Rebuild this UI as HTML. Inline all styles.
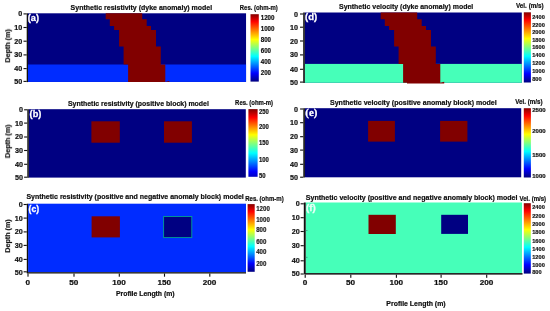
<!DOCTYPE html>
<html lang="en"><head><meta charset="utf-8"><title>Synthetic resistivity and velocity models</title>
<style>
html,body{margin:0;padding:0;background:#fff;}
body{width:550px;height:311px;overflow:hidden;font-family:"Liberation Sans", sans-serif;}
svg{display:block;}
</style></head>
<body>
<svg width="550" height="311" viewBox="0 0 550 311">
<rect x="0" y="0" width="550" height="311" fill="#ffffff"/>
<defs><filter id="soft" x="-5%" y="-30%" width="110%" height="160%"><feGaussianBlur stdDeviation="0.35"/></filter><linearGradient id="jet" x1="0" y1="1" x2="0" y2="0"><stop offset="0" stop-color="#000080"/><stop offset="0.125" stop-color="#0000ff"/><stop offset="0.375" stop-color="#00ffff"/><stop offset="0.5" stop-color="#80ff80"/><stop offset="0.625" stop-color="#ffff00"/><stop offset="0.89" stop-color="#ff0000"/><stop offset="1" stop-color="#860000"/></linearGradient><linearGradient id="jetb" x1="0" y1="1" x2="0" y2="0"><stop offset="0" stop-color="#0000c4"/><stop offset="0.08" stop-color="#0000ff"/><stop offset="0.35" stop-color="#00ffff"/><stop offset="0.49" stop-color="#80ff80"/><stop offset="0.62" stop-color="#ffff00"/><stop offset="0.875" stop-color="#ff0000"/><stop offset="1" stop-color="#800000"/></linearGradient></defs>
<rect x="28.00" y="13.30" width="218.05" height="68.60" fill="#000082"/>
<rect x="28.00" y="64.50" width="218.05" height="17.40" fill="#002cff"/>
<polygon fill="#810000" points="142.20,13.30 142.20,19.30 146.70,19.30 146.70,26.00 151.00,26.00 151.00,30.10 156.00,30.10 156.00,46.60 160.80,46.60 160.80,64.50 165.30,64.50 165.30,81.90 169.30,81.00 169.30,81.90 128.10,81.90 128.10,64.50 123.60,64.50 123.60,46.60 119.10,46.60 119.10,30.10 114.10,30.10 114.10,26.00 109.80,26.00 109.80,19.30 105.70,19.30 105.70,13.30"/>
<rect x="26.70" y="13.30" width="1.30" height="68.80" fill="#111"/>
<rect x="23.50" y="13.35" width="3.20" height="1.10" fill="#111"/>
<text x="22.2" y="16" font-size="7" font-weight="bold" text-anchor="end" fill="#111" font-family='"Liberation Sans", sans-serif' textLength="4.0" lengthAdjust="spacingAndGlyphs" stroke="#111" stroke-width="0.21" filter="url(#soft)">0</text>
<rect x="23.50" y="26.95" width="3.20" height="1.10" fill="#111"/>
<text x="22.2" y="30" font-size="7" font-weight="bold" text-anchor="end" fill="#111" font-family='"Liberation Sans", sans-serif' textLength="8.0" lengthAdjust="spacingAndGlyphs" stroke="#111" stroke-width="0.21" filter="url(#soft)">10</text>
<rect x="23.50" y="40.65" width="3.20" height="1.10" fill="#111"/>
<text x="22.2" y="44" font-size="7" font-weight="bold" text-anchor="end" fill="#111" font-family='"Liberation Sans", sans-serif' textLength="8.0" lengthAdjust="spacingAndGlyphs" stroke="#111" stroke-width="0.21" filter="url(#soft)">20</text>
<rect x="23.50" y="54.35" width="3.20" height="1.10" fill="#111"/>
<text x="22.2" y="57" font-size="7" font-weight="bold" text-anchor="end" fill="#111" font-family='"Liberation Sans", sans-serif' textLength="8.0" lengthAdjust="spacingAndGlyphs" stroke="#111" stroke-width="0.21" filter="url(#soft)">30</text>
<rect x="23.50" y="68.05" width="3.20" height="1.10" fill="#111"/>
<text x="22.2" y="71" font-size="7" font-weight="bold" text-anchor="end" fill="#111" font-family='"Liberation Sans", sans-serif' textLength="8.0" lengthAdjust="spacingAndGlyphs" stroke="#111" stroke-width="0.21" filter="url(#soft)">40</text>
<rect x="23.50" y="80.85" width="3.20" height="1.10" fill="#111"/>
<text x="22.2" y="84" font-size="7" font-weight="bold" text-anchor="end" fill="#111" font-family='"Liberation Sans", sans-serif' textLength="8.0" lengthAdjust="spacingAndGlyphs" stroke="#111" stroke-width="0.21" filter="url(#soft)">50</text>
<text x="70.6" y="9.5" font-size="7.1" font-weight="bold" text-anchor="start" fill="#111" font-family='"Liberation Sans", sans-serif' textLength="141.6" lengthAdjust="spacingAndGlyphs" stroke="#111" stroke-width="0.21" filter="url(#soft)">Synthetic resistivity (dyke anomaly) model</text>
<text x="27.8" y="21.0" font-size="9.5" font-weight="bold" text-anchor="start" fill="#fff" font-family='"Liberation Sans", sans-serif' textLength="11.3" lengthAdjust="spacingAndGlyphs" stroke="#fff" stroke-width="0.28" filter="url(#soft)">(a)</text>
<rect x="250.50" y="14.20" width="8.30" height="67.40" fill="url(#jet)"/>
<text x="239.8" y="9.7" font-size="7" font-weight="bold" text-anchor="start" fill="#111" font-family='"Liberation Sans", sans-serif' textLength="38" lengthAdjust="spacingAndGlyphs" stroke="#111" stroke-width="0.21" filter="url(#soft)">Res. (ohm-m)</text>
<text x="260.7" y="20" font-size="6.6" font-weight="bold" text-anchor="start" fill="#111" font-family='"Liberation Sans", sans-serif' textLength="13.8" lengthAdjust="spacingAndGlyphs" stroke="#111" stroke-width="0.20" filter="url(#soft)">1200</text>
<text x="260.7" y="31" font-size="6.6" font-weight="bold" text-anchor="start" fill="#111" font-family='"Liberation Sans", sans-serif' textLength="13.8" lengthAdjust="spacingAndGlyphs" stroke="#111" stroke-width="0.20" filter="url(#soft)">1000</text>
<text x="260.7" y="42" font-size="6.6" font-weight="bold" text-anchor="start" fill="#111" font-family='"Liberation Sans", sans-serif' textLength="10.350000000000001" lengthAdjust="spacingAndGlyphs" stroke="#111" stroke-width="0.20" filter="url(#soft)">800</text>
<text x="260.7" y="53" font-size="6.6" font-weight="bold" text-anchor="start" fill="#111" font-family='"Liberation Sans", sans-serif' textLength="10.350000000000001" lengthAdjust="spacingAndGlyphs" stroke="#111" stroke-width="0.20" filter="url(#soft)">600</text>
<text x="260.7" y="64" font-size="6.6" font-weight="bold" text-anchor="start" fill="#111" font-family='"Liberation Sans", sans-serif' textLength="10.350000000000001" lengthAdjust="spacingAndGlyphs" stroke="#111" stroke-width="0.20" filter="url(#soft)">400</text>
<text x="260.7" y="75" font-size="6.6" font-weight="bold" text-anchor="start" fill="#111" font-family='"Liberation Sans", sans-serif' textLength="10.350000000000001" lengthAdjust="spacingAndGlyphs" stroke="#111" stroke-width="0.20" filter="url(#soft)">200</text>
<text x="0" y="0" font-size="7" font-weight="bold" text-anchor="middle" fill="#111" font-family='"Liberation Sans", sans-serif' textLength="33.5" lengthAdjust="spacingAndGlyphs" transform="translate(10.1,45.8) rotate(-90)" stroke="#111" stroke-width="0.21" filter="url(#soft)">Depth (m)</text>
<rect x="304.80" y="12.50" width="217.00" height="70.30" fill="#000082"/>
<rect x="304.80" y="63.90" width="217.00" height="18.90" fill="#46ffb9"/>
<polygon fill="#810000" points="417.20,12.50 417.20,19.30 421.70,19.30 421.70,26.00 426.00,26.00 426.00,30.10 431.00,30.10 431.00,46.60 435.80,46.60 435.80,63.90 440.30,63.90 440.30,82.80 444.20,81.80 444.20,83.40 407.00,83.40 407.00,82.80 403.10,82.80 403.10,63.90 398.60,63.90 398.60,46.60 394.10,46.60 394.10,30.10 389.10,30.10 389.10,26.00 384.80,26.00 384.80,19.30 380.70,19.30 380.70,12.50"/>
<rect x="303.20" y="12.50" width="1.60" height="70.50" fill="#111"/>
<rect x="300.00" y="13.45" width="3.20" height="1.10" fill="#111"/>
<text x="298.1" y="17" font-size="7" font-weight="bold" text-anchor="end" fill="#111" font-family='"Liberation Sans", sans-serif' textLength="4.0" lengthAdjust="spacingAndGlyphs" stroke="#111" stroke-width="0.21" filter="url(#soft)">0</text>
<rect x="300.00" y="26.65" width="3.20" height="1.10" fill="#111"/>
<text x="298.1" y="30" font-size="7" font-weight="bold" text-anchor="end" fill="#111" font-family='"Liberation Sans", sans-serif' textLength="8.0" lengthAdjust="spacingAndGlyphs" stroke="#111" stroke-width="0.21" filter="url(#soft)">10</text>
<rect x="300.00" y="40.45" width="3.20" height="1.10" fill="#111"/>
<text x="298.1" y="44" font-size="7" font-weight="bold" text-anchor="end" fill="#111" font-family='"Liberation Sans", sans-serif' textLength="8.0" lengthAdjust="spacingAndGlyphs" stroke="#111" stroke-width="0.21" filter="url(#soft)">20</text>
<rect x="300.00" y="54.35" width="3.20" height="1.10" fill="#111"/>
<text x="298.1" y="57" font-size="7" font-weight="bold" text-anchor="end" fill="#111" font-family='"Liberation Sans", sans-serif' textLength="8.0" lengthAdjust="spacingAndGlyphs" stroke="#111" stroke-width="0.21" filter="url(#soft)">30</text>
<rect x="300.00" y="68.75" width="3.20" height="1.10" fill="#111"/>
<text x="298.1" y="72" font-size="7" font-weight="bold" text-anchor="end" fill="#111" font-family='"Liberation Sans", sans-serif' textLength="8.0" lengthAdjust="spacingAndGlyphs" stroke="#111" stroke-width="0.21" filter="url(#soft)">40</text>
<rect x="300.00" y="81.55" width="3.20" height="1.10" fill="#111"/>
<text x="298.1" y="85" font-size="7" font-weight="bold" text-anchor="end" fill="#111" font-family='"Liberation Sans", sans-serif' textLength="8.0" lengthAdjust="spacingAndGlyphs" stroke="#111" stroke-width="0.21" filter="url(#soft)">50</text>
<text x="339.0" y="8.9" font-size="7.1" font-weight="bold" text-anchor="start" fill="#111" font-family='"Liberation Sans", sans-serif' textLength="134.2" lengthAdjust="spacingAndGlyphs" stroke="#111" stroke-width="0.21" filter="url(#soft)">Synthetic velocity (dyke anomaly) model</text>
<text x="305.0" y="20.4" font-size="9.5" font-weight="bold" text-anchor="start" fill="#fff" font-family='"Liberation Sans", sans-serif' textLength="12.2" lengthAdjust="spacingAndGlyphs" stroke="#fff" stroke-width="0.28" filter="url(#soft)">(d)</text>
<rect x="523.80" y="12.30" width="7.10" height="70.20" fill="url(#jet)"/>
<text x="516" y="8.0" font-size="7" font-weight="bold" text-anchor="start" fill="#111" font-family='"Liberation Sans", sans-serif' textLength="27.7" lengthAdjust="spacingAndGlyphs" stroke="#111" stroke-width="0.21" filter="url(#soft)">Vel. (m/s)</text>
<text x="532.2" y="19" font-size="5.8" font-weight="bold" text-anchor="start" fill="#111" font-family='"Liberation Sans", sans-serif' textLength="12.6" lengthAdjust="spacingAndGlyphs" stroke="#111" stroke-width="0.17" filter="url(#soft)">2400</text>
<text x="532.2" y="27" font-size="5.8" font-weight="bold" text-anchor="start" fill="#111" font-family='"Liberation Sans", sans-serif' textLength="12.6" lengthAdjust="spacingAndGlyphs" stroke="#111" stroke-width="0.17" filter="url(#soft)">2200</text>
<text x="532.2" y="34" font-size="5.8" font-weight="bold" text-anchor="start" fill="#111" font-family='"Liberation Sans", sans-serif' textLength="12.6" lengthAdjust="spacingAndGlyphs" stroke="#111" stroke-width="0.17" filter="url(#soft)">2000</text>
<text x="532.2" y="42" font-size="5.8" font-weight="bold" text-anchor="start" fill="#111" font-family='"Liberation Sans", sans-serif' textLength="12.6" lengthAdjust="spacingAndGlyphs" stroke="#111" stroke-width="0.17" filter="url(#soft)">1800</text>
<text x="532.2" y="49" font-size="5.8" font-weight="bold" text-anchor="start" fill="#111" font-family='"Liberation Sans", sans-serif' textLength="12.6" lengthAdjust="spacingAndGlyphs" stroke="#111" stroke-width="0.17" filter="url(#soft)">1600</text>
<text x="532.2" y="57" font-size="5.8" font-weight="bold" text-anchor="start" fill="#111" font-family='"Liberation Sans", sans-serif' textLength="12.6" lengthAdjust="spacingAndGlyphs" stroke="#111" stroke-width="0.17" filter="url(#soft)">1400</text>
<text x="532.2" y="65" font-size="5.8" font-weight="bold" text-anchor="start" fill="#111" font-family='"Liberation Sans", sans-serif' textLength="12.6" lengthAdjust="spacingAndGlyphs" stroke="#111" stroke-width="0.17" filter="url(#soft)">1200</text>
<text x="532.2" y="73" font-size="5.8" font-weight="bold" text-anchor="start" fill="#111" font-family='"Liberation Sans", sans-serif' textLength="12.6" lengthAdjust="spacingAndGlyphs" stroke="#111" stroke-width="0.17" filter="url(#soft)">1000</text>
<text x="532.2" y="81" font-size="5.8" font-weight="bold" text-anchor="start" fill="#111" font-family='"Liberation Sans", sans-serif' textLength="9.5" lengthAdjust="spacingAndGlyphs" stroke="#111" stroke-width="0.17" filter="url(#soft)">800</text>
<rect x="28.80" y="109.20" width="217.00" height="68.40" fill="#000082"/>
<rect x="91.40" y="121.30" width="28.40" height="21.40" fill="#810000"/>
<rect x="164.00" y="121.30" width="27.90" height="21.40" fill="#810000"/>
<rect x="27.30" y="109.20" width="1.50" height="68.60" fill="#111"/>
<rect x="24.10" y="109.25" width="3.20" height="1.10" fill="#111"/>
<text x="23.1" y="112" font-size="7" font-weight="bold" text-anchor="end" fill="#111" font-family='"Liberation Sans", sans-serif' textLength="4.0" lengthAdjust="spacingAndGlyphs" stroke="#111" stroke-width="0.21" filter="url(#soft)">0</text>
<rect x="24.10" y="122.55" width="3.20" height="1.10" fill="#111"/>
<text x="23.1" y="126" font-size="7" font-weight="bold" text-anchor="end" fill="#111" font-family='"Liberation Sans", sans-serif' textLength="8.0" lengthAdjust="spacingAndGlyphs" stroke="#111" stroke-width="0.21" filter="url(#soft)">10</text>
<rect x="24.10" y="136.45" width="3.20" height="1.10" fill="#111"/>
<text x="23.1" y="139" font-size="7" font-weight="bold" text-anchor="end" fill="#111" font-family='"Liberation Sans", sans-serif' textLength="8.0" lengthAdjust="spacingAndGlyphs" stroke="#111" stroke-width="0.21" filter="url(#soft)">20</text>
<rect x="24.10" y="149.95" width="3.20" height="1.10" fill="#111"/>
<text x="23.1" y="153" font-size="7" font-weight="bold" text-anchor="end" fill="#111" font-family='"Liberation Sans", sans-serif' textLength="8.0" lengthAdjust="spacingAndGlyphs" stroke="#111" stroke-width="0.21" filter="url(#soft)">30</text>
<rect x="24.10" y="163.75" width="3.20" height="1.10" fill="#111"/>
<text x="23.1" y="167" font-size="7" font-weight="bold" text-anchor="end" fill="#111" font-family='"Liberation Sans", sans-serif' textLength="8.0" lengthAdjust="spacingAndGlyphs" stroke="#111" stroke-width="0.21" filter="url(#soft)">40</text>
<rect x="24.10" y="176.65" width="3.20" height="1.10" fill="#111"/>
<text x="23.1" y="180" font-size="7" font-weight="bold" text-anchor="end" fill="#111" font-family='"Liberation Sans", sans-serif' textLength="8.0" lengthAdjust="spacingAndGlyphs" stroke="#111" stroke-width="0.21" filter="url(#soft)">50</text>
<text x="67.9" y="105.9" font-size="7.1" font-weight="bold" text-anchor="start" fill="#111" font-family='"Liberation Sans", sans-serif' textLength="141.0" lengthAdjust="spacingAndGlyphs" stroke="#111" stroke-width="0.21" filter="url(#soft)">Synthetic resistivity (positive block) model</text>
<text x="29.6" y="117.1" font-size="9.5" font-weight="bold" text-anchor="start" fill="#fff" font-family='"Liberation Sans", sans-serif' textLength="11.8" lengthAdjust="spacingAndGlyphs" stroke="#fff" stroke-width="0.28" filter="url(#soft)">(b)</text>
<rect x="248.40" y="109.10" width="9.20" height="67.70" fill="url(#jetb)"/>
<text x="235.1" y="105.3" font-size="7" font-weight="bold" text-anchor="start" fill="#111" font-family='"Liberation Sans", sans-serif' textLength="38" lengthAdjust="spacingAndGlyphs" stroke="#111" stroke-width="0.21" filter="url(#soft)">Res. (ohm-m)</text>
<text x="258.9" y="114" font-size="6.6" font-weight="bold" text-anchor="start" fill="#111" font-family='"Liberation Sans", sans-serif' textLength="9.899999999999999" lengthAdjust="spacingAndGlyphs" stroke="#111" stroke-width="0.20" filter="url(#soft)">250</text>
<text x="258.9" y="129" font-size="6.6" font-weight="bold" text-anchor="start" fill="#111" font-family='"Liberation Sans", sans-serif' textLength="9.899999999999999" lengthAdjust="spacingAndGlyphs" stroke="#111" stroke-width="0.20" filter="url(#soft)">200</text>
<text x="258.9" y="145" font-size="6.6" font-weight="bold" text-anchor="start" fill="#111" font-family='"Liberation Sans", sans-serif' textLength="9.899999999999999" lengthAdjust="spacingAndGlyphs" stroke="#111" stroke-width="0.20" filter="url(#soft)">150</text>
<text x="258.9" y="162" font-size="6.6" font-weight="bold" text-anchor="start" fill="#111" font-family='"Liberation Sans", sans-serif' textLength="9.899999999999999" lengthAdjust="spacingAndGlyphs" stroke="#111" stroke-width="0.20" filter="url(#soft)">100</text>
<text x="258.9" y="178" font-size="6.6" font-weight="bold" text-anchor="start" fill="#111" font-family='"Liberation Sans", sans-serif' textLength="6.6" lengthAdjust="spacingAndGlyphs" stroke="#111" stroke-width="0.20" filter="url(#soft)">50</text>
<text x="0" y="0" font-size="7" font-weight="bold" text-anchor="middle" fill="#111" font-family='"Liberation Sans", sans-serif' textLength="33.5" lengthAdjust="spacingAndGlyphs" transform="translate(10.1,141.3) rotate(-90)" stroke="#111" stroke-width="0.21" filter="url(#soft)">Depth (m)</text>
<rect x="304.90" y="108.20" width="216.30" height="69.10" fill="#000082"/>
<rect x="368.10" y="120.90" width="26.80" height="20.70" fill="#810000"/>
<rect x="440.10" y="120.90" width="27.30" height="20.70" fill="#810000"/>
<rect x="303.30" y="108.20" width="1.60" height="69.30" fill="#111"/>
<rect x="300.10" y="108.45" width="3.20" height="1.10" fill="#111"/>
<text x="298.0" y="112" font-size="7" font-weight="bold" text-anchor="end" fill="#111" font-family='"Liberation Sans", sans-serif' textLength="4.0" lengthAdjust="spacingAndGlyphs" stroke="#111" stroke-width="0.21" filter="url(#soft)">0</text>
<rect x="300.10" y="122.15" width="3.20" height="1.10" fill="#111"/>
<text x="298.0" y="125" font-size="7" font-weight="bold" text-anchor="end" fill="#111" font-family='"Liberation Sans", sans-serif' textLength="8.0" lengthAdjust="spacingAndGlyphs" stroke="#111" stroke-width="0.21" filter="url(#soft)">10</text>
<rect x="300.10" y="136.15" width="3.20" height="1.10" fill="#111"/>
<text x="298.0" y="139" font-size="7" font-weight="bold" text-anchor="end" fill="#111" font-family='"Liberation Sans", sans-serif' textLength="8.0" lengthAdjust="spacingAndGlyphs" stroke="#111" stroke-width="0.21" filter="url(#soft)">20</text>
<rect x="300.10" y="149.55" width="3.20" height="1.10" fill="#111"/>
<text x="298.0" y="153" font-size="7" font-weight="bold" text-anchor="end" fill="#111" font-family='"Liberation Sans", sans-serif' textLength="8.0" lengthAdjust="spacingAndGlyphs" stroke="#111" stroke-width="0.21" filter="url(#soft)">30</text>
<rect x="300.10" y="163.75" width="3.20" height="1.10" fill="#111"/>
<text x="298.0" y="167" font-size="7" font-weight="bold" text-anchor="end" fill="#111" font-family='"Liberation Sans", sans-serif' textLength="8.0" lengthAdjust="spacingAndGlyphs" stroke="#111" stroke-width="0.21" filter="url(#soft)">40</text>
<rect x="300.10" y="176.65" width="3.20" height="1.10" fill="#111"/>
<text x="298.0" y="180" font-size="7" font-weight="bold" text-anchor="end" fill="#111" font-family='"Liberation Sans", sans-serif' textLength="8.0" lengthAdjust="spacingAndGlyphs" stroke="#111" stroke-width="0.21" filter="url(#soft)">50</text>
<text x="330.0" y="105.3" font-size="7.1" font-weight="bold" text-anchor="start" fill="#111" font-family='"Liberation Sans", sans-serif' textLength="166.7" lengthAdjust="spacingAndGlyphs" stroke="#111" stroke-width="0.21" filter="url(#soft)">Synthetic velocity (positive anomaly block) model</text>
<text x="305.3" y="116.0" font-size="9.5" font-weight="bold" text-anchor="start" fill="#fff" font-family='"Liberation Serif", serif' textLength="12" lengthAdjust="spacingAndGlyphs" stroke="#fff" stroke-width="0.28" filter="url(#soft)">(e)</text>
<rect x="523.80" y="108.20" width="7.10" height="69.30" fill="url(#jet)"/>
<text x="515.2" y="103.9" font-size="7" font-weight="bold" text-anchor="start" fill="#111" font-family='"Liberation Sans", sans-serif' textLength="27.3" lengthAdjust="spacingAndGlyphs" stroke="#111" stroke-width="0.21" filter="url(#soft)">Vel. (m/s)</text>
<text x="532.2" y="112" font-size="6.2" font-weight="bold" text-anchor="start" fill="#111" font-family='"Liberation Sans", sans-serif' textLength="13.4" lengthAdjust="spacingAndGlyphs" stroke="#111" stroke-width="0.19" filter="url(#soft)">2500</text>
<text x="532.2" y="133" font-size="6.2" font-weight="bold" text-anchor="start" fill="#111" font-family='"Liberation Sans", sans-serif' textLength="13.4" lengthAdjust="spacingAndGlyphs" stroke="#111" stroke-width="0.19" filter="url(#soft)">2000</text>
<text x="532.2" y="157" font-size="6.2" font-weight="bold" text-anchor="start" fill="#111" font-family='"Liberation Sans", sans-serif' textLength="13.4" lengthAdjust="spacingAndGlyphs" stroke="#111" stroke-width="0.19" filter="url(#soft)">1500</text>
<text x="532.2" y="178" font-size="6.2" font-weight="bold" text-anchor="start" fill="#111" font-family='"Liberation Sans", sans-serif' textLength="13.4" lengthAdjust="spacingAndGlyphs" stroke="#111" stroke-width="0.19" filter="url(#soft)">1000</text>
<rect x="28.10" y="203.70" width="217.90" height="68.50" fill="#002cff"/>
<rect x="91.60" y="216.30" width="28.30" height="21.10" fill="#810000"/>
<rect x="163.60" y="216.50" width="28.20" height="21.10" fill="#000082" stroke="#00a092" stroke-width="0.9"/>
<rect x="26.80" y="203.70" width="1.30" height="69.30" fill="#111"/>
<rect x="23.60" y="203.95" width="3.20" height="1.10" fill="#111"/>
<text x="22.8" y="207" font-size="7" font-weight="bold" text-anchor="end" fill="#111" font-family='"Liberation Sans", sans-serif' textLength="4.0" lengthAdjust="spacingAndGlyphs" stroke="#111" stroke-width="0.21" filter="url(#soft)">0</text>
<rect x="23.60" y="217.55" width="3.20" height="1.10" fill="#111"/>
<text x="22.8" y="221" font-size="7" font-weight="bold" text-anchor="end" fill="#111" font-family='"Liberation Sans", sans-serif' textLength="8.0" lengthAdjust="spacingAndGlyphs" stroke="#111" stroke-width="0.21" filter="url(#soft)">10</text>
<rect x="23.60" y="231.35" width="3.20" height="1.10" fill="#111"/>
<text x="22.8" y="234" font-size="7" font-weight="bold" text-anchor="end" fill="#111" font-family='"Liberation Sans", sans-serif' textLength="8.0" lengthAdjust="spacingAndGlyphs" stroke="#111" stroke-width="0.21" filter="url(#soft)">20</text>
<rect x="23.60" y="244.85" width="3.20" height="1.10" fill="#111"/>
<text x="22.8" y="248" font-size="7" font-weight="bold" text-anchor="end" fill="#111" font-family='"Liberation Sans", sans-serif' textLength="8.0" lengthAdjust="spacingAndGlyphs" stroke="#111" stroke-width="0.21" filter="url(#soft)">30</text>
<rect x="23.60" y="258.85" width="3.20" height="1.10" fill="#111"/>
<text x="22.8" y="262" font-size="7" font-weight="bold" text-anchor="end" fill="#111" font-family='"Liberation Sans", sans-serif' textLength="8.0" lengthAdjust="spacingAndGlyphs" stroke="#111" stroke-width="0.21" filter="url(#soft)">40</text>
<rect x="23.60" y="271.25" width="3.20" height="1.10" fill="#111"/>
<text x="22.8" y="275" font-size="7" font-weight="bold" text-anchor="end" fill="#111" font-family='"Liberation Sans", sans-serif' textLength="8.0" lengthAdjust="spacingAndGlyphs" stroke="#111" stroke-width="0.21" filter="url(#soft)">50</text>
<rect x="26.80" y="272.20" width="219.20" height="1.30" fill="#111"/>
<rect x="27.45" y="273.50" width="1.10" height="3.20" fill="#111"/>
<text x="27.8" y="284.6" font-size="8" font-weight="bold" text-anchor="middle" fill="#111" font-family='"Liberation Sans", sans-serif' textLength="4.55" lengthAdjust="spacingAndGlyphs" stroke="#111" stroke-width="0.24" filter="url(#soft)">0</text>
<rect x="73.45" y="273.50" width="1.10" height="3.20" fill="#111"/>
<text x="73.8" y="284.6" font-size="8" font-weight="bold" text-anchor="middle" fill="#111" font-family='"Liberation Sans", sans-serif' textLength="9.1" lengthAdjust="spacingAndGlyphs" stroke="#111" stroke-width="0.24" filter="url(#soft)">50</text>
<rect x="118.75" y="273.50" width="1.10" height="3.20" fill="#111"/>
<text x="119.1" y="284.6" font-size="8" font-weight="bold" text-anchor="middle" fill="#111" font-family='"Liberation Sans", sans-serif' textLength="13.649999999999999" lengthAdjust="spacingAndGlyphs" stroke="#111" stroke-width="0.24" filter="url(#soft)">100</text>
<rect x="163.95" y="273.50" width="1.10" height="3.20" fill="#111"/>
<text x="164.3" y="284.6" font-size="8" font-weight="bold" text-anchor="middle" fill="#111" font-family='"Liberation Sans", sans-serif' textLength="13.649999999999999" lengthAdjust="spacingAndGlyphs" stroke="#111" stroke-width="0.24" filter="url(#soft)">150</text>
<rect x="209.25" y="273.50" width="1.10" height="3.20" fill="#111"/>
<text x="209.60000000000002" y="284.6" font-size="8" font-weight="bold" text-anchor="middle" fill="#111" font-family='"Liberation Sans", sans-serif' textLength="13.649999999999999" lengthAdjust="spacingAndGlyphs" stroke="#111" stroke-width="0.24" filter="url(#soft)">200</text>
<text x="26.4" y="198.9" font-size="7.1" font-weight="bold" text-anchor="start" fill="#111" font-family='"Liberation Sans", sans-serif' textLength="217.4" lengthAdjust="spacingAndGlyphs" stroke="#111" stroke-width="0.21" filter="url(#soft)">Synthetic resistivity (positive and negative anomaly block) model</text>
<text x="28.6" y="211.8" font-size="9.5" font-weight="bold" text-anchor="start" fill="#fff" font-family='"Liberation Sans", sans-serif' textLength="10.6" lengthAdjust="spacingAndGlyphs" stroke="#fff" stroke-width="0.28" filter="url(#soft)">(c)</text>
<rect x="247.60" y="204.10" width="7.10" height="67.70" fill="url(#jet)"/>
<text x="245.2" y="200.9" font-size="7" font-weight="bold" text-anchor="start" fill="#111" font-family='"Liberation Sans", sans-serif' textLength="38.5" lengthAdjust="spacingAndGlyphs" stroke="#111" stroke-width="0.21" filter="url(#soft)">Res. (ohm-m)</text>
<text x="256.2" y="211" font-size="6.3" font-weight="bold" text-anchor="start" fill="#222" font-family='"Liberation Sans", sans-serif' textLength="13.6" lengthAdjust="spacingAndGlyphs" stroke="#222" stroke-width="0.19" filter="url(#soft)">1200</text>
<text x="256.2" y="222" font-size="6.3" font-weight="bold" text-anchor="start" fill="#222" font-family='"Liberation Sans", sans-serif' textLength="13.6" lengthAdjust="spacingAndGlyphs" stroke="#222" stroke-width="0.19" filter="url(#soft)">1000</text>
<text x="256.2" y="232" font-size="6.3" font-weight="bold" text-anchor="start" fill="#222" font-family='"Liberation Sans", sans-serif' textLength="10.2" lengthAdjust="spacingAndGlyphs" stroke="#222" stroke-width="0.19" filter="url(#soft)">800</text>
<text x="256.2" y="244" font-size="6.3" font-weight="bold" text-anchor="start" fill="#222" font-family='"Liberation Sans", sans-serif' textLength="10.2" lengthAdjust="spacingAndGlyphs" stroke="#222" stroke-width="0.19" filter="url(#soft)">600</text>
<text x="256.2" y="254" font-size="6.3" font-weight="bold" text-anchor="start" fill="#222" font-family='"Liberation Sans", sans-serif' textLength="10.2" lengthAdjust="spacingAndGlyphs" stroke="#222" stroke-width="0.19" filter="url(#soft)">400</text>
<text x="256.2" y="266" font-size="6.3" font-weight="bold" text-anchor="start" fill="#222" font-family='"Liberation Sans", sans-serif' textLength="10.2" lengthAdjust="spacingAndGlyphs" stroke="#222" stroke-width="0.19" filter="url(#soft)">200</text>
<text x="0" y="0" font-size="7" font-weight="bold" text-anchor="middle" fill="#111" font-family='"Liberation Sans", sans-serif' textLength="33.5" lengthAdjust="spacingAndGlyphs" transform="translate(10.1,236) rotate(-90)" stroke="#111" stroke-width="0.21" filter="url(#soft)">Depth (m)</text>
<text x="145.3" y="295.6" font-size="7.3" font-weight="bold" text-anchor="middle" fill="#111" font-family='"Liberation Sans", sans-serif' textLength="58.6" lengthAdjust="spacingAndGlyphs" stroke="#111" stroke-width="0.22" filter="url(#soft)">Profile Length (m)</text>
<rect x="305.70" y="202.50" width="216.30" height="70.60" fill="#46ffb9"/>
<rect x="368.50" y="214.80" width="27.30" height="19.20" fill="#810000"/>
<rect x="441.20" y="214.80" width="26.80" height="19.10" fill="#000082"/>
<rect x="303.80" y="202.50" width="1.90" height="71.40" fill="#111"/>
<rect x="300.60" y="203.25" width="3.20" height="1.10" fill="#111"/>
<text x="299.8" y="206" font-size="7" font-weight="bold" text-anchor="end" fill="#111" font-family='"Liberation Sans", sans-serif' textLength="4.0" lengthAdjust="spacingAndGlyphs" stroke="#111" stroke-width="0.21" filter="url(#soft)">0</text>
<rect x="300.60" y="217.15" width="3.20" height="1.10" fill="#111"/>
<text x="299.8" y="220" font-size="7" font-weight="bold" text-anchor="end" fill="#111" font-family='"Liberation Sans", sans-serif' textLength="8.0" lengthAdjust="spacingAndGlyphs" stroke="#111" stroke-width="0.21" filter="url(#soft)">10</text>
<rect x="300.60" y="230.95" width="3.20" height="1.10" fill="#111"/>
<text x="299.8" y="234" font-size="7" font-weight="bold" text-anchor="end" fill="#111" font-family='"Liberation Sans", sans-serif' textLength="8.0" lengthAdjust="spacingAndGlyphs" stroke="#111" stroke-width="0.21" filter="url(#soft)">20</text>
<rect x="300.60" y="245.15" width="3.20" height="1.10" fill="#111"/>
<text x="299.8" y="248" font-size="7" font-weight="bold" text-anchor="end" fill="#111" font-family='"Liberation Sans", sans-serif' textLength="8.0" lengthAdjust="spacingAndGlyphs" stroke="#111" stroke-width="0.21" filter="url(#soft)">30</text>
<rect x="300.60" y="260.25" width="3.20" height="1.10" fill="#111"/>
<text x="299.8" y="263" font-size="7" font-weight="bold" text-anchor="end" fill="#111" font-family='"Liberation Sans", sans-serif' textLength="8.0" lengthAdjust="spacingAndGlyphs" stroke="#111" stroke-width="0.21" filter="url(#soft)">40</text>
<rect x="300.60" y="273.45" width="3.20" height="1.10" fill="#111"/>
<text x="299.8" y="276" font-size="7" font-weight="bold" text-anchor="end" fill="#111" font-family='"Liberation Sans", sans-serif' textLength="8.0" lengthAdjust="spacingAndGlyphs" stroke="#111" stroke-width="0.21" filter="url(#soft)">50</text>
<rect x="305.70" y="230.20" width="1.80" height="0.70" fill="#2f8f78"/>
<rect x="305.70" y="256.90" width="1.80" height="0.70" fill="#2f8f78"/>
<rect x="304.40" y="273.10" width="218.10" height="1.50" fill="#111"/>
<rect x="304.65" y="274.60" width="1.10" height="3.20" fill="#111"/>
<text x="305.0" y="285.0" font-size="8" font-weight="bold" text-anchor="middle" fill="#111" font-family='"Liberation Sans", sans-serif' textLength="4.55" lengthAdjust="spacingAndGlyphs" stroke="#111" stroke-width="0.24" filter="url(#soft)">0</text>
<rect x="350.25" y="274.60" width="1.10" height="3.20" fill="#111"/>
<text x="350.6" y="285.0" font-size="8" font-weight="bold" text-anchor="middle" fill="#111" font-family='"Liberation Sans", sans-serif' textLength="9.1" lengthAdjust="spacingAndGlyphs" stroke="#111" stroke-width="0.24" filter="url(#soft)">50</text>
<rect x="395.85" y="274.60" width="1.10" height="3.20" fill="#111"/>
<text x="396.2" y="285.0" font-size="8" font-weight="bold" text-anchor="middle" fill="#111" font-family='"Liberation Sans", sans-serif' textLength="13.649999999999999" lengthAdjust="spacingAndGlyphs" stroke="#111" stroke-width="0.24" filter="url(#soft)">100</text>
<rect x="440.55" y="274.60" width="1.10" height="3.20" fill="#111"/>
<text x="440.90000000000003" y="285.0" font-size="8" font-weight="bold" text-anchor="middle" fill="#111" font-family='"Liberation Sans", sans-serif' textLength="13.649999999999999" lengthAdjust="spacingAndGlyphs" stroke="#111" stroke-width="0.24" filter="url(#soft)">150</text>
<rect x="486.15" y="274.60" width="1.10" height="3.20" fill="#111"/>
<text x="486.5" y="285.0" font-size="8" font-weight="bold" text-anchor="middle" fill="#111" font-family='"Liberation Sans", sans-serif' textLength="13.649999999999999" lengthAdjust="spacingAndGlyphs" stroke="#111" stroke-width="0.24" filter="url(#soft)">200</text>
<text x="305.8" y="200.0" font-size="7.1" font-weight="bold" text-anchor="start" fill="#111" font-family='"Liberation Sans", sans-serif' textLength="211.7" lengthAdjust="spacingAndGlyphs" stroke="#111" stroke-width="0.21" filter="url(#soft)">Synthetic velocity (positive and negative anomaly block) model</text>
<text x="305.9" y="211.4" font-size="9.5" font-weight="bold" text-anchor="start" fill="#e8fff6" font-family='"Liberation Sans", sans-serif' textLength="9.9" lengthAdjust="spacingAndGlyphs" stroke="#e8fff6" stroke-width="0.28" filter="url(#soft)">(f)</text>
<rect x="523.80" y="203.20" width="7.00" height="70.40" fill="url(#jet)"/>
<text x="519.5" y="200.9" font-size="7" font-weight="bold" text-anchor="start" fill="#111" font-family='"Liberation Sans", sans-serif' textLength="26.6" lengthAdjust="spacingAndGlyphs" stroke="#111" stroke-width="0.21" filter="url(#soft)">Vel. (m/s)</text>
<text x="532.2" y="209" font-size="5.8" font-weight="bold" text-anchor="start" fill="#111" font-family='"Liberation Sans", sans-serif' textLength="12.6" lengthAdjust="spacingAndGlyphs" stroke="#111" stroke-width="0.17" filter="url(#soft)">2400</text>
<text x="532.2" y="218" font-size="5.8" font-weight="bold" text-anchor="start" fill="#111" font-family='"Liberation Sans", sans-serif' textLength="12.6" lengthAdjust="spacingAndGlyphs" stroke="#111" stroke-width="0.17" filter="url(#soft)">2200</text>
<text x="532.2" y="226" font-size="5.8" font-weight="bold" text-anchor="start" fill="#111" font-family='"Liberation Sans", sans-serif' textLength="12.6" lengthAdjust="spacingAndGlyphs" stroke="#111" stroke-width="0.17" filter="url(#soft)">2000</text>
<text x="532.2" y="234" font-size="5.8" font-weight="bold" text-anchor="start" fill="#111" font-family='"Liberation Sans", sans-serif' textLength="12.6" lengthAdjust="spacingAndGlyphs" stroke="#111" stroke-width="0.17" filter="url(#soft)">1800</text>
<text x="532.2" y="243" font-size="5.8" font-weight="bold" text-anchor="start" fill="#111" font-family='"Liberation Sans", sans-serif' textLength="12.6" lengthAdjust="spacingAndGlyphs" stroke="#111" stroke-width="0.17" filter="url(#soft)">1600</text>
<text x="532.2" y="251" font-size="5.8" font-weight="bold" text-anchor="start" fill="#111" font-family='"Liberation Sans", sans-serif' textLength="12.6" lengthAdjust="spacingAndGlyphs" stroke="#111" stroke-width="0.17" filter="url(#soft)">1400</text>
<text x="532.2" y="259" font-size="5.8" font-weight="bold" text-anchor="start" fill="#111" font-family='"Liberation Sans", sans-serif' textLength="12.6" lengthAdjust="spacingAndGlyphs" stroke="#111" stroke-width="0.17" filter="url(#soft)">1200</text>
<text x="532.2" y="267" font-size="5.8" font-weight="bold" text-anchor="start" fill="#111" font-family='"Liberation Sans", sans-serif' textLength="12.6" lengthAdjust="spacingAndGlyphs" stroke="#111" stroke-width="0.17" filter="url(#soft)">1000</text>
<text x="532.2" y="274" font-size="5.8" font-weight="bold" text-anchor="start" fill="#111" font-family='"Liberation Sans", sans-serif' textLength="9.5" lengthAdjust="spacingAndGlyphs" stroke="#111" stroke-width="0.17" filter="url(#soft)">800</text>
<text x="416.0" y="306.4" font-size="7.2" font-weight="bold" text-anchor="middle" fill="#111" font-family='"Liberation Sans", sans-serif' textLength="59.3" lengthAdjust="spacingAndGlyphs" stroke="#111" stroke-width="0.22" filter="url(#soft)">Profile Length (m)</text>
</svg>
</body></html>
